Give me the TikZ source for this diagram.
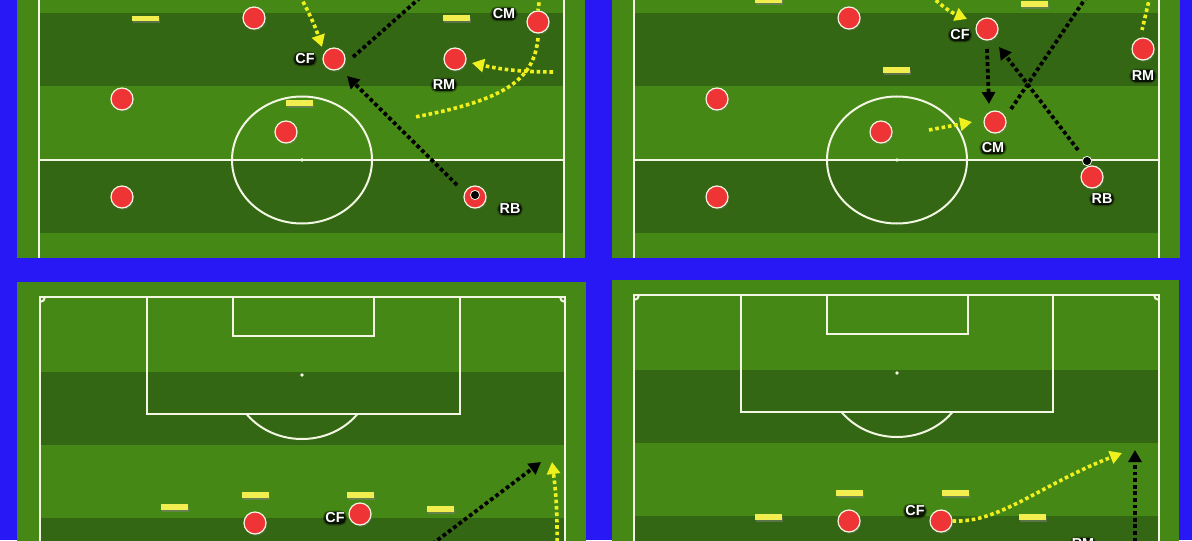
\documentclass[tikz,border=0pt]{standalone}
\usepackage{fontspec}
\setmainfont{Liberation Sans}
\usetikzlibrary{arrows.meta,shadows}
\definecolor{bgblue}{RGB}{40,24,246}
\definecolor{lgreen}{RGB}{70,136,22}
\definecolor{dgreen}{RGB}{52,103,19}
\definecolor{pred}{RGB}{238,52,52}
\definecolor{pline}{RGB}{242,246,226}
\definecolor{conecol}{RGB}{243,238,80}
\definecolor{runyel}{RGB}{240,240,30}
\tikzset{
  pitchline/.style={draw=pline, line width=1pt},
  player/.style={circle, fill=pred, draw=pline, line width=0.6pt, minimum size=11pt, inner sep=0pt,
    drop shadow={shadow xshift=0.5pt, shadow yshift=-0.8pt, opacity=0.35}},
  cone/.style={rectangle, fill=conecol, minimum width=13.5pt, minimum height=2.6pt, inner sep=0pt,
    drop shadow={shadow xshift=0.6pt, shadow yshift=-1.2pt, opacity=0.5}},
  ball/.style={circle, fill=black, draw=pline, line width=0.4pt, minimum size=4.6pt, inner sep=0pt},
  lbl/.style={font=\fontsize{7.2pt}{8pt}\selectfont\bfseries, text=white, inner xsep=0.5pt, inner ysep=0.5pt,
    rounded corners=2.5pt,
    preaction={fill=black, fill opacity=0.3, draw=black, draw opacity=0.3, line width=1.4pt},
    fill=black, fill opacity=0.7, text opacity=1},
  runblack/.style={draw=black, line width=1.9pt, dash pattern=on 1.9pt off 1.4pt},
  runyellow/.style={draw=runyel, line width=1.8pt, dash pattern=on 1.8pt off 1.4pt},
  ahead/.style={-{Triangle[length=6pt,width=6.5pt]}},
  spot/.style={circle, fill=pline, inner sep=0pt, minimum size=1.8pt}
}
\begin{document}
\begin{tikzpicture}[x=0.5pt,y=-0.5pt]
\useasboundingbox (0,0) rectangle (1192,540);
\fill[bgblue] (0,0) rectangle (1192,540);

% ---------- panel 1 ----------
\fill[lgreen] (17,-2) rectangle (585,258);
\fill[dgreen] (39,13) rectangle (564,86);
\fill[dgreen] (39,160) rectangle (564,233);
\draw[pitchline] (39,-2) -- (39,258) (564,-2) -- (564,258) (39,160) -- (564,160);
\draw[pitchline] (302,160) ellipse [x radius=70, y radius=63.5];
\node[spot] (s1) at (302,160) {};
% ---------- panel 2 ----------
\fill[lgreen] (612,-2) rectangle (1180,258);
\fill[dgreen] (634,13) rectangle (1159,86);
\fill[dgreen] (634,160) rectangle (1159,233);
\draw[pitchline] (634,-2) -- (634,258) (1159,-2) -- (1159,258) (634,160) -- (1159,160);
\draw[pitchline] (897,160) ellipse [x radius=70, y radius=63.5];
\node[spot] (s2) at (897,160) {};
% ---------- panel 3 ----------
\fill[lgreen] (17,282) rectangle (586,545);
\fill[dgreen] (40,372) rectangle (565,445);
\fill[dgreen] (40,518) rectangle (565,545);
\draw[pitchline] (40,545) -- (40,297) -- (565,297) -- (565,545);
\draw[pitchline] (147,297) rectangle (460,414);
\draw[pitchline] (233,297) rectangle (374,336);
\begin{scope}
\clip (140,414.5) rectangle (470,460);
\draw[pitchline] (302,375) ellipse [x radius=70, y radius=64];
\end{scope}
\node[spot] (s3) at (302,375) {};
\draw[pitchline] (45,297) arc[start angle=0, end angle=90, radius=5];
\draw[pitchline] (565,302) arc[start angle=90, end angle=180, radius=5];
% ---------- panel 4 ----------
\fill[lgreen] (612,280) rectangle (1179,545);
\fill[dgreen] (634,370) rectangle (1159,443);
\fill[dgreen] (634,516) rectangle (1159,545);
\draw[pitchline] (634,545) -- (634,295) -- (1159,295) -- (1159,545);
\draw[pitchline] (741,295) rectangle (1053,412);
\draw[pitchline] (827,295) rectangle (968,334);
\begin{scope}
\clip (730,412.5) rectangle (1065,460);
\draw[pitchline] (897,373) ellipse [x radius=70, y radius=64];
\end{scope}
\node[spot] (s4) at (897,373) {};
\draw[pitchline] (639,295) arc[start angle=0, end angle=90, radius=5];
\draw[pitchline] (1159,300) arc[start angle=90, end angle=180, radius=5];

% ---------- panel 1 items ----------
\node[cone] (c1a) at (145,18.5) {};
\node[cone] (c1b) at (299,103) {};
\node[cone] (c1c) at (456,18) {};
\node[player] (p1a) at (254,18) {};
\node[player] (p1b) at (122,99) {};
\node[player] (p1c) at (286,132) {};
\node[player] (p1d) at (122,197) {};
\node[player] (cf1) at (334,59) {};
\node[player] (cm1) at (538,22) {};
\node[player] (rm1) at (455,59) {};
\node[player] (rb1) at (475,197) {};
\node[ball] (b1) at (475,195) {};
\node[lbl] (lcf1) at (305,59) {CF};
\node[lbl] (lcm1) at (504,14) {CM};
\node[lbl] (lrm1) at (444,85) {RM};
\node[lbl] (lrb1) at (510,209) {RB};
\coordinate (a1s) at (300,-4);
\coordinate (a1t) at (322,47);
\draw[runyellow,ahead] (a1s) to[bend left=5] (a1t);
\coordinate (a2s) at (353,57);
\coordinate (a2t) at (422,-4);
\draw[runblack] (a2s) -- (a2t);
\coordinate (a3s) at (457,185);
\coordinate (a3t) at (347,76);
\draw[runblack,ahead] (a3s) -- (a3t);
\coordinate (a4s) at (538,38);
\coordinate (a4t) at (415,117);
\draw[runyellow] (a4s) .. controls (534,80) and (505,100) .. (a4t);
\coordinate (a5s) at (540,-4);
\draw[runyellow] (a5s) -- (cm1.north);
\coordinate (a6s) at (553,72);
\coordinate (a6t) at (472,63);
\draw[runyellow,ahead] (a6s) to[bend left=6] (a6t);

% ---------- panel 2 items ----------
\node[cone] (c2a) at (768,0.5) {};
\node[cone] (c2b) at (896,70) {};
\node[cone] (c2c) at (1034,4) {};
\node[player] (p2a) at (849,18) {};
\node[player] (p2b) at (717,99) {};
\node[player] (p2c) at (881,132) {};
\node[player] (p2d) at (717,197) {};
\node[player] (cf2) at (987,29) {};
\node[player] (rm2) at (1143,49) {};
\node[player] (cm2) at (995,122) {};
\node[player] (rb2) at (1092,177) {};
\node[ball] (b2) at (1087,161) {};
\node[lbl] (lcf2) at (960,35) {CF};
\node[lbl] (lrm2) at (1143,76) {RM};
\node[lbl] (lcm2) at (993,148) {CM};
\node[lbl] (lrb2) at (1102,199) {RB};
\coordinate (b1s) at (931,-4);
\coordinate (b1t) at (967,19);
\draw[runyellow,ahead] (b1s) to[bend right=10] (b1t);
\coordinate (b2s) at (987,49);
\coordinate (b2t) at (989,104);
\draw[runblack,ahead] (b2s) -- (b2t);
\coordinate (b3s) at (1078,150);
\coordinate (b3t) at (999,47);
\draw[runblack,ahead] (b3s) -- (b3t);
\coordinate (b4s) at (1011,109);
\coordinate (b4t) at (1087,-4);
\draw[runblack] (b4s) -- (b4t);
\coordinate (b5s) at (929,130);
\coordinate (b5t) at (972,122);
\draw[runyellow,ahead] (b5s) -- (b5t);
\coordinate (b6s) at (1150,-4);
\coordinate (b6t) at (1142,30);
\draw[runyellow] (b6s) -- (b6t);

% ---------- panel 3 items ----------
\node[cone] (c3a) at (174,507) {};
\node[cone] (c3b) at (255,495) {};
\node[cone] (c3c) at (360,495) {};
\node[cone] (c3d) at (440,509) {};
\node[player] (p3a) at (255,523) {};
\node[player] (cf3) at (360,514) {};
\node[lbl] (lcf3) at (335,518) {CF};
\coordinate (d1s) at (427,548);
\coordinate (d1t) at (541,462);
\draw[runblack,ahead] (d1s) -- (d1t);
\coordinate (d2s) at (557,548);
\coordinate (d2t) at (552,462);
\draw[runyellow,ahead] (d2s) to[bend right=4] (d2t);

% ---------- panel 4 items ----------
\node[cone] (c4a) at (768,517) {};
\node[cone] (c4b) at (849,493) {};
\node[cone] (c4c) at (955,493) {};
\node[cone] (c4d) at (1032,517) {};
\node[player] (p4a) at (849,521) {};
\node[player] (cf4) at (941,521) {};
\node[lbl] (lcf4) at (915,511) {CF};
\node[lbl] (lrm4) at (1083,544) {RM};
\coordinate (e1t) at (1122,453);
\draw[runyellow,ahead] (cf4.east) .. controls (1000,523) and (1040,485) .. (e1t);
\coordinate (e2s) at (1135,548);
\coordinate (e2t) at (1135,450);
\draw[runblack,ahead] (e2s) -- (e2t);
\end{tikzpicture}
\end{document}
